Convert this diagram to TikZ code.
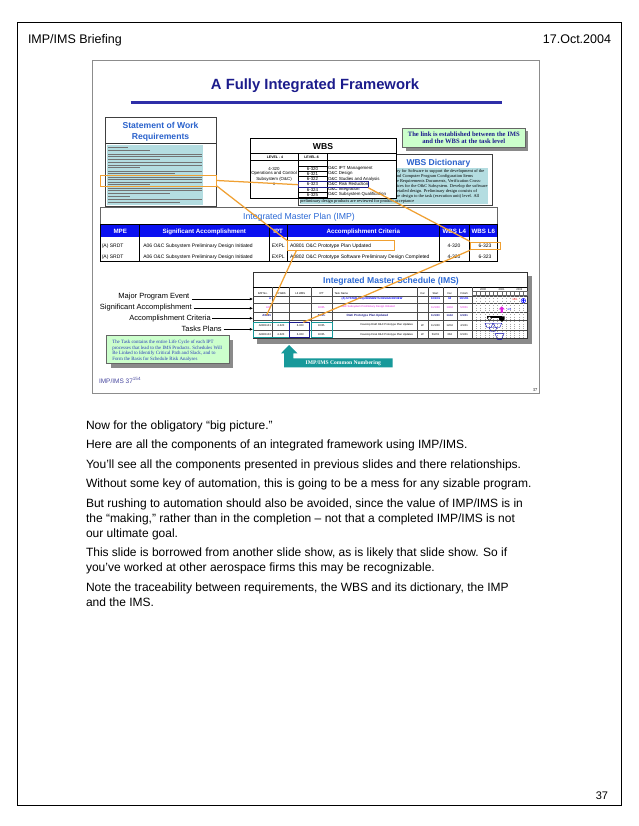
\documentclass[tikz,border=0pt]{standalone}
\usepackage{fontspec}
\setmainfont{Liberation Sans}
\newfontfamily\tnr{Liberation Serif}
\usetikzlibrary{arrows.meta,calc}
\definecolor{navy}{HTML}{1C1C8C}
\definecolor{ulblue}{HTML}{2E2EA8}
\definecolor{sowblue}{HTML}{2A62CC}
\definecolor{tealbg}{HTML}{B4DDE1}
\definecolor{orng}{HTML}{F0A032}
\definecolor{tealc}{HTML}{17999A}
\definecolor{hdrblue}{HTML}{0A10F0}
\definecolor{greenbg}{HTML}{CCFFCC}
\definecolor{imsblue}{HTML}{2C6AD6}
\definecolor{magen}{HTML}{E020E0}
\definecolor{notecol}{HTML}{2A3CB8}
\definecolor{footcol}{HTML}{4A4AA0}
\definecolor{framegray}{HTML}{8C8C8C}
\definecolor{shadowgray}{HTML}{8A8A8A}
\newcommand\fsz[1]{\fontsize{#1}{#1}\selectfont}
\begin{document}
\begin{tikzpicture}[x=1pt,y=-1pt,
  txt/.style={inner sep=0pt,outer sep=0pt},
  bx/.style={inner sep=0pt,outer sep=0pt,anchor=north west},
  bodytxt/.style={txt,anchor=base west,font=\fsz{12}},
  lbl/.style={txt,anchor=base east,font=\fsz{7.5}},
  ptr/.style={line width=0.5pt,-{Latex[length=3.2pt,width=2.8pt]}},
  hlbox/.style={bx,draw=orng,line width=0.9pt},
  conn/.style={orng,line width=1.25pt},
  impcell/.style={txt,anchor=base west,font=\fsz{5}},
  impcellc/.style={txt,anchor=base,font=\fsz{5}},
  imphd/.style={txt,anchor=base,font=\fsz{6.2}\bfseries,text=white},
  wbsname/.style={txt,anchor=west,font=\fsz{4.4}},
  wbscode/.style={txt,font=\fsz{4.4}},
  dicttxt/.style={txt,anchor=base west,font=\tnr\fsz{4.4}},
  imst/.style={txt,font=\fsz{2.7}},
  sowline/.style={black!55,line width=0.45pt},
  notetxt/.style={txt,anchor=base west,font=\tnr\fsz{4.9},text=notecol},
]
\useasboundingbox (0,0) rectangle (638,826);
\fill[white] (0,0) rectangle (638,826);

% page frame and header
\draw[line width=0.8pt] (17,22) rectangle (621,805);
\node[txt,anchor=base west,font=\fsz{12.5}] (hdrL) at (28,44) {IMP/IMS Briefing};
\node[txt,anchor=base east,font=\fsz{12.5}] (hdrR) at (611,44) {17.Oct.2004};
\node[txt,anchor=base east,font=\fsz{11}] (pnum) at (608,799) {37};

% slide frame
\draw[framegray,line width=0.7pt] (92,60) rectangle (539,393);
\node[txt,anchor=base,font=\fsz{14.8}\bfseries,text=navy] (title) at (315,89.3) {A Fully Integrated Framework};
\draw[ulblue,line width=2.2pt] (130.5,102.5) -- (502,102.5);

% Statement of work
\node[bx,draw=black!75,line width=0.6pt,fill=white,minimum width=110.5pt,minimum height=88.5pt] (sow) at (105.5,117.5) {};
\fill[tealbg] (107,145) rectangle (203,205);
\draw[black!80,line width=1pt] (105.5,143.5) -- (216,143.5);
\node[txt,anchor=base,font=\fsz{8.6}\bfseries,text=sowblue] (sowt1) at (160.5,128.1) {Statement of Work};
\node[txt,anchor=base,font=\fsz{8.6}\bfseries,text=sowblue] (sowt2) at (160.5,139.1) {Requirements};
\foreach \yy/\xe in {147/128,150.5/150,154/202,156.5/202,159/160,162.5/202,165/202,167.5/140,171/202,173.5/175,177/202,179.5/202,182/202,184.5/150,188/202,190.5/202,193/170,196.5/130,199.5/202,202.5/180}
  \draw[sowline] (108,\yy) -- (\xe,\yy);
\node[hlbox,minimum width=116.5pt,minimum height=11pt] (sowhl) at (100.3,175) {};

% WBS dictionary
\node[bx,draw=black!75,line width=0.6pt,fill=white,minimum width=194pt,minimum height=51pt] (dict) at (298,154.3) {};
\fill[tealbg] (299.5,168.3) rectangle (487.5,204);
\node[txt,anchor=base,font=\fsz{8.5}\bfseries,text=sowblue] (dicttitle) at (438.4,165.3) {WBS Dictionary};
\node[dicttxt] (d1) at (397,172.3) {ry for Software to support the development of the};
\node[dicttxt] (d2) at (397,177.5) {nd Computer Program Configuration Items};
\node[dicttxt] (d3) at (397,182.6) {e Requirements Documents, Verification Cross-};
\node[dicttxt] (d4) at (397,187.6) {ices for the O\&C Subsystem.  Develop the software};
\node[dicttxt] (d5) at (397,192.6) {etailed design.  Preliminary design consists of};
\node[dicttxt] (d6) at (397,197.6) {re design to the task (execution unit) level.  All};
\node[dicttxt] (d7) at (300,202.2) {preliminary design products are reviewed for product acceptance};

% link note
\fill[shadowgray] (406,131.5) rectangle (528.3,150.7);
\node[bx,draw=black!60,line width=0.5pt,fill=greenbg,minimum width=122.3pt,minimum height=19pt] (linkbox) at (402.7,128.3) {};
\node[txt,anchor=base,font=\tnr\fsz{6.6}\bfseries,text=navy] (lk1) at (463.8,136.3) {The link is established between the IMS};
\node[txt,anchor=base,font=\tnr\fsz{6.6}\bfseries,text=navy] (lk2) at (463.8,144) {and the WBS at the task level};

% WBS
\node[bx,draw=black,line width=0.6pt,fill=white,minimum width=146.7pt,minimum height=60pt] (wbs) at (250,138.3) {};
\node[txt,anchor=base,font=\fsz{8.6}\bfseries] (wbstitle) at (323,149.1) {WBS};
\draw[line width=0.5pt] (250,153.5) -- (396.7,153.5);
\draw[line width=0.5pt] (250,160) -- (396.7,160);
\draw[line width=0.4pt] (298,153.5) -- (298,198.3);
\draw[line width=0.4pt] (327,153.5) -- (327,198.3);
\node[txt,font=\fsz{3.5}\bfseries] (lv4) at (275,156.8) {LEVEL - 4};
\node[txt,font=\fsz{3.5}\bfseries] (lv6) at (311.5,156.8) {LEVEL-6};
\foreach \i in {0,...,6}
  \draw[line width=0.35pt] (298,{165.9+5.25*\i}) -- (327,{165.9+5.25*\i});
\begin{scope}
\clip (250.3,160.3) rectangle (297.8,198);
\node[wbscode] (w4a) at (274,168.5) {4-320};
\node[wbscode] (w4b) at (274,173.75) {Operations and Control};
\node[wbscode] (w4c) at (274,179) {Subsystem (O\&C)};
\node[wbscode] (w4d) at (274,184.5) {n};
\end{scope}
\foreach \c/\n [count=\i from 0] in {6-320/O\&C IPT Management,6-321/O\&C Design,6-322/O\&C Studies and Analysis,6-323/O\&C Risk Reduction,6-324/O\&C Integration,6-325/O\&C Subsystem Qualification}{
  \node[wbscode] (wc\i) at (312.5,{168.5+5.25*\i}) {\c};
  \node[wbsname] (wn\i) at (328,{168.5+5.25*\i}) {\n};
}
\node[bx,draw=navy,line width=0.8pt,minimum width=70pt,minimum height=6.2pt] (wbshl) at (298.3,181.6) {};

% IMP
\node[bx,draw=black!60,line width=0.5pt,fill=white,minimum width=396.6pt,minimum height=54pt] (imp) at (100.7,207.7) {};
\node[txt,anchor=base,font=\fsz{8.7},text=imsblue] (imptitle) at (299,219.2) {Integrated Master Plan (IMP)};
\fill[hdrblue] (100.7,224) rectangle (497.3,236.7);
\draw[line width=0.6pt] (100.7,224) rectangle (497.3,261.7);
\foreach \xx in {139.3,269,287.3,439.3,469.3}
  \draw[line width=0.6pt] (\xx,224) -- (\xx,261.7);
\node[imphd] (h1) at (120.3,233.2) {MPE};
\node[imphd] (h2) at (204.2,233.2) {Significant Accomplishment};
\node[imphd] (h3) at (278.2,233.2) {IPT};
\node[imphd] (h4) at (363.3,233.2) {Accomplishment Criteria};
\node[imphd] (h5) at (454.3,233.2) {WBS L4};
\node[imphd] (h6) at (483.3,233.2) {WBS L6};
\foreach \yy/\ac [count=\i] in {247.5/{A0801  O\&C Prototype Plan Updated},258.5/{A0802  O\&C Prototype Software Preliminary Design Completed}}{
  \node[impcell] (mpe\i) at (101.8,\yy) {(A) SRDT};
  \node[impcell] (sa\i) at (143.3,\yy) {A06  O\&C Subsystem Preliminary Design Initiated};
  \node[impcellc] (ipt\i) at (278.3,\yy) {EXPL};
  \node[impcell] (ac\i) at (290,\yy) {\ac};
  \node[impcellc] (l4\i) at (454,\yy) {4-320};
  \node[impcellc] (l6\i) at (485,\yy) {6-323};
}
\node[hlbox,minimum width=106.7pt,minimum height=10pt] (imphlA) at (287.3,240.7) {};
\node[hlbox,minimum width=30.7pt,minimum height=6.6pt] (imphlW) at (470,242.7) {};

% IMS
\fill[shadowgray] (257,276) rectangle (531.7,344.3);
\node[bx,draw=black!80,line width=0.6pt,fill=white,minimum width=274pt,minimum height=66pt] (ims) at (253.3,272.3) {};
\node[txt,anchor=base,font=\fsz{8.6}\bfseries,text=imsblue] (imstitle) at (391,283.1) {Integrated Master Schedule (IMS)};
\draw[line width=0.6pt] (253.3,287.3) -- (527.3,287.3);
\foreach \yy in {296,303,311.7,320.6,329.8}
  \draw[black!70,line width=0.35pt] (253.3,\yy) -- (527.3,\yy);
\foreach \xx in {272.3,289.3,311,332.3,416.7,428.3,442.7,456.7,471.7}
  \draw[black!70,line width=0.35pt] (\xx,287.3) -- (\xx,338.3);
\foreach \i in {0,...,12}
  \draw[black!60,line width=0.25pt] ({472+4.25*\i},291.3) rectangle ({472+4.25*(\i+1)},295.5);
\foreach \i in {1,...,12}
  \draw[gray!70,dotted,line width=0.3pt] ({472+4.25*\i},296) -- ({472+4.25*\i},338.3);
\node[imst] (yr1) at (483,289.3) {2000};
\node[imst] (yr2) at (501.7,289.3) {2001};
\node[imst] (yr3) at (519.3,289.3) {2002};
\node[imst] (c1) at (262.8,293.3) {IMP No.};
\node[imst] (c2) at (280.8,293.3) {L4 WBS};
\node[imst] (c3) at (300.2,293.3) {L6 WBS};
\node[imst] (c4) at (321.7,293.3) {IPT};
\node[imst,anchor=west] (c5) at (334.5,293.3) {Task Name};
\node[imst] (c6) at (422.5,293.3) {Cal};
\node[imst] (c7) at (435.5,293.3) {Start};
\node[imst] (c8) at (449.7,293.3) {Dur};
\node[imst] (c9) at (464.2,293.3) {Finish};
% row 1
\node[imst,anchor=east,text=blue,font=\fsz{2.7}\bfseries] (r1no) at (271,298.7) {A};
\node[imst,anchor=west,text=blue,font=\fsz{2.7}\bfseries] (r1t) at (341.7,298.7) {(A) SYSTEM REQUIREMENTS DESIGN REVIEW};
\node[imst,text=blue,font=\fsz{2.7}\bfseries] (r1s) at (435.5,298.7) {10/1/01};
\node[imst,text=blue,font=\fsz{2.7}\bfseries] (r1d) at (449.7,298.7) {0d};
\node[imst,text=blue,font=\fsz{2.7}\bfseries] (r1f) at (464.2,298.7) {10/1/01};
\node[imst,text=red] (r1g) at (515,300) {10/1};
\draw[blue,fill=white,line width=0.4pt] (523.4,300.6) circle (2.3);
\fill[blue] (523.4,298.7) -- (524.9,300.6) -- (523.9,300.6) -- (523.9,302.5) -- (522.9,302.5) -- (522.9,300.6) -- (521.9,300.6) -- cycle;
% row 2
\node[imst,anchor=east,text=magen] (r2no) at (271,307.3) {A06};
\node[imst,text=magen] (r2ipt) at (321.7,307.3) {EXPL};
\node[imst,anchor=west,text=magen] (r2t) at (341,307.3) {O\&C Subsystem Preliminary Design Initiated};
\node[imst,text=magen] (r2s) at (435.5,307.3) {11/1/00};
\node[imst,text=magen] (r2d) at (449.7,307.3) {140d};
\node[imst,text=magen] (r2f) at (464.2,307.3) {5/2/01};
\fill[magen] (501.7,306.4) -- (504.7,309.4) -- (502.9,309.4) -- (502.9,312.6) -- (500.5,312.6) -- (500.5,309.4) -- (498.7,309.4) -- cycle;
\node[imst,text=blue] (r2g) at (509.3,309.3) {4/3};
% row 3
\node[imst,anchor=east,text=navy,font=\fsz{2.9}\bfseries] (imsA) at (271,316) {A0801};
\node[imst,text=navy,font=\fsz{2.9}\bfseries] (r3ipt) at (321.7,316) {EXPL};
\node[imst,anchor=west,text=navy,font=\fsz{3}\bfseries] (r3t) at (346.7,316) {O\&C Prototype Plan Updated};
\node[imst,text=navy,font=\fsz{2.7}\bfseries] (r3s) at (435.5,316) {11/1/00};
\node[imst,text=navy,font=\fsz{2.7}\bfseries] (r3d) at (449.7,316) {144d};
\node[imst,text=navy,font=\fsz{2.7}\bfseries] (r3f) at (464.2,316) {6/1/01};
\fill[black] (487.3,316.2) rectangle (502,318.4);
\draw[black,fill=white,line width=0.35pt] (487.3,318.3) -- (489.4,316.2) -- (491.5,318.3) -- (489.4,320.4) -- cycle;
\fill[black] (499.2,316.4) -- (504.5,316.4) -- (504.5,319.5) -- (501.8,321.8) -- (499.2,319.5) -- cycle;
% rows 4 and 5
\node[imst,anchor=east] (r4no) at (271,325.3) {A0801101};
\node[imst] (r4l4) at (280.8,325.3) {4-320};
\node[imst] (r4l6) at (300.2,325.3) {6-323};
\node[imst] (r4ipt) at (321.7,325.3) {EXPL};
\node[imst,anchor=east] (r4t) at (413,325.3) {Develop Draft O\&C Prototype Plan Updates};
\node[imst] (r4c) at (422.5,325.3) {W};
\node[imst] (r4s) at (435.5,325.3) {11/1/00};
\node[imst] (r4d) at (449.7,325.3) {120d};
\node[imst] (r4f) at (464.2,325.3) {4/1/01};
\node[imst,anchor=east] (r5no) at (271,334.3) {A0801102};
\node[imst] (r5l4) at (280.8,334.3) {4-320};
\node[imst] (r5l6) at (300.2,334.3) {6-323};
\node[imst] (r5ipt) at (321.7,334.3) {EXPL};
\node[imst,anchor=east] (r5t) at (413,334.3) {Develop Final O\&C Prototype Plan Updates};
\node[imst] (r5c) at (422.5,334.3) {W};
\node[imst] (r5s) at (435.5,334.3) {5/2/01};
\node[imst] (r5d) at (449.7,334.3) {30d};
\node[imst] (r5f) at (464.2,334.3) {6/1/01};
\draw[blue!70!black,line width=0.4pt] (485,323.2) -- (493,323.2) -- (491,327.5) -- (487,327.5) -- cycle;
\draw[blue!70!black,line width=0.4pt] (493.5,323.2) -- (501.7,323.2) -- (499.7,327.5) -- (495.5,327.5) -- cycle;
\draw[blue!70!black,line width=0.4pt] (489,327.5) -- (497,327.5) -- (495,331.5) -- (491,331.5) -- cycle;
\draw[blue!70!black,line width=0.4pt] (495,333.6) -- (504,333.6) -- (501.5,339.3) -- (497.5,339.3) -- cycle;
\node[bx,draw=tealc,line width=0.8pt,minimum width=36pt,minimum height=15pt] (imshlNo) at (253.3,322.3) {};
\node[bx,draw=navy,line width=0.8pt,minimum width=20pt,minimum height=15pt] (imshlL6) at (289.3,322.3) {};
\node[bx,draw=tealc,line width=0.8pt,minimum width=21.3pt,minimum height=15pt] (imshlIPT) at (311,322.3) {};

% side labels
\node[lbl] (lMPE) at (189.3,298.3) {Major Program Event};
\node[lbl] (lSA) at (191.7,309.3) {Significant Accomplishment};
\node[lbl] (lAC) at (210.7,320.3) {Accomplishment Criteria};
\node[lbl] (lTP) at (221.7,331.9) {Tasks Plans};
\coordinate (tMPE) at (253,299);
\coordinate (tSA) at (253,308.3);
\coordinate (tAC) at (253,318.3);
\coordinate (tTP) at (253,329.3);
\draw[ptr] ([xshift=3pt]lMPE.east |- tMPE) -- (tMPE);
\draw[ptr] ([xshift=1.8pt]lSA.east |- tSA) -- (tSA);
\draw[ptr] ([xshift=1.5pt]lAC.east |- tAC) -- (tAC);
\draw[ptr] ([xshift=1.8pt]lTP.east |- tTP) -- (tTP);

% task note
\fill[shadowgray] (110.5,339.5) rectangle (233.3,368.3);
\node[bx,draw=black!60,line width=0.5pt,fill=greenbg,minimum width=122.3pt,minimum height=27.5pt] (notebox) at (106.7,335.7) {};
\node[notetxt] (nt1) at (112.3,343) {The Task contains the entire Life Cycle of each IPT};
\node[notetxt] (nt2) at (112.3,349) {processes that lead to the IMS Products.  Schedules Will};
\node[notetxt] (nt3) at (112.3,354.6) {Be Linked to Identify Critical Path and Slack, and to};
\node[notetxt] (nt4) at (112.3,360.6) {Form the Basis for Schedule Risk Analyses};

% common numbering arrow
\fill[tealc] (289,345) -- (297.3,353.3) -- (293.3,353.3) -- (293.3,358.3) -- (392.7,358.3) -- (392.7,367.3) -- (284,367.3) -- (284,353.3) -- (281,353.3) -- cycle;
\node[txt,anchor=base,font=\tnr\fsz{5.6}\bfseries,text=white] (numtxt) at (343.3,364.6) {IMP/IMS Common  Numbering};

% footer of slide
\node[txt,anchor=base west,font=\fsz{6.5},text=footcol] (foot) at (99,383.4) {IMP/IMS 37\textsuperscript{154}};
\node[txt,anchor=base east,font=\tnr\fsz{4.5}] (slnum) at (537.3,391.8) {37};

% orange traceability connectors
\draw[conn] (sowhl.east) -- (wbshl.west);
\draw[conn] (sowhl.south east) -- (imphlA.north west);
\draw[conn] (wbshl.south east) -- ([yshift=1.3pt]imphlW.north west);
\draw[conn] ([yshift=-1pt]imphlW.south west) -- ([xshift=-6pt]imshlL6.north east);
\draw[conn] ([xshift=9pt]imphlA.south west) -- (imsA.north);

% notes text
\node[bodytxt] (b1) at (86,429) {Now for the obligatory “big picture.”};
\node[bodytxt] (b2) at (86,448.5) {Here are all the components of an integrated framework using IMP/IMS.};
\node[bodytxt] (b3) at (86,468) {You’ll see all the components presented in previous slides and there relationships.};
\node[bodytxt] (b4) at (86,487.5) {Without some key of automation, this is going to be a mess for any sizable program.};
\node[bodytxt] (b5) at (86,507) {But rushing to automation should also be avoided, since the value of IMP/IMS is in};
\node[bodytxt] (b6) at (86,522) {the “making,” rather than in the completion – not that a completed IMP/IMS is not};
\node[bodytxt] (b7) at (86,537) {our ultimate goal.};
\node[bodytxt] (b8) at (86,556.5) {This slide is borrowed from another slide show, as is likely that slide show. So if};
\node[bodytxt] (b9) at (86,571.5) {you’ve worked at other aerospace firms this may be recognizable.};
\node[bodytxt] (b10) at (86,591) {Note the traceability between requirements, the WBS and its dictionary, the IMP};
\node[bodytxt] (b11) at (86,606) {and the IMS.};
\end{tikzpicture}
\end{document}
